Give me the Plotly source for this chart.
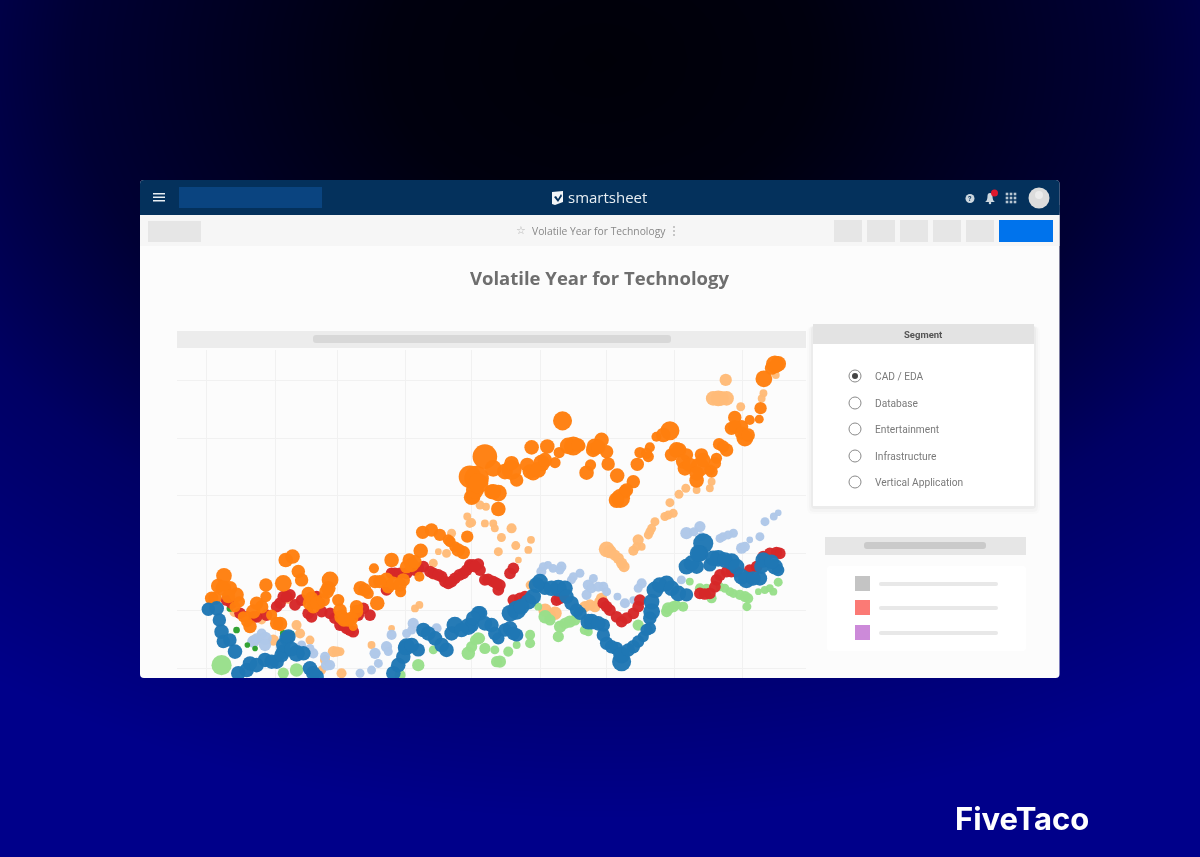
"""
Volatile Year for Technology - smartsheet dashboard screenshot
"""

import numpy as np
import pandas as pd
import plotly.graph_objects as go

# ============================================================================
# Data: day of year, change in %, market cap per point
# ============================================================================
START = pd.Timestamp('2019-01-01')

orange_day = [3.6, 5.1, 7.7, 10.4, 13.4, 14.7, 12.7, 19.5, 21, 24.8, 26.7, 26.7, 29.3, 33.1, 34.6, 35.7, 38.8, 41.4,
              42.9, 47.4, 48.2, 51.2, 55.8, 55, 59.5, 61, 64, 66.3, 67.8, 69.7, 73.1, 77.2, 75.7, 76.2, 81.4, 82.2,
              83.7, 87.8, 89, 91.7, 92.8, 96.3, 96.9, 97.8, 101.8, 105.6, 110.2, 112.4, 116.2, 118, 120, 122.2, 126,
              129.8, 120.7, 132.1, 129, 132.1, 138.1, 140.4, 145.2, 147.2, 147.9, 151.7, 154.3, 157.8, 159.7, 161.2,
              166.1, 169.1, 172.1, 173.9, 175.9, 178.9, 181.2, 181.9, 186, 187.5, 189.5, 193.3, 195.1, 196.3, 200.1,
              200.8, 203.8, 209.9, 210.6, 214.1, 217.4, 216.7, 222, 223.5, 224.2, 228, 231, 232.2, 235.6, 237.8,
              239.3, 242.4, 243.9, 246.1, 250.4, 251, 252.5, 257.5,
              2.1, 7.4, 9.7, 16.5, 22.5, 18, 31.6, 45.9, 46.7, 49.7, 52.7, 54.2, 60.3, 62.1, 65.6, 67.8, 71.6, 78.4,
              84.5, 87.5, 90.5, 94.3, 109.4, 113.9,
              121.5, 119.2, 123, 129.8, 135.1, 138.1, 146.4, 150.2, 153.2, 163.8, 168.3, 175.1, 177.4, 185.7, 190.2,
              199.3, 206.9, 212.9, 215.9, 218.9, 225, 222, 228.8, 230.3, 234, 239.3, 242.4, 245.4, 256, 259]
orange_pct = [4.4, 8.7, 12.2, 7.9, 5.6, 3.2, 1.5, -5.4, -0.2, 1.5, 5, 9, -1.4, -4.5, 9.6, 17.7, 18.9, 13.7,
              10.8, 4.4, 1.5, 2.7, 10.8, 7.9, 3.8, -2, -3.1, -5.4, -0.2, 7.9, 6.1, 2.7, 14.8, 10.2, 10.8, 8.4,
              17.7, 6.7, 10.8, 17.7, 16, 11.9, 20.9, 27.3, 28.1, 26.4, 24.1, 22.3, 20.3, 25.8, 39.5, 46.1, 53.6,
              49.5, 39.7, 40.9, 41.4, 35.4, 49, 45.5, 50.7, 56.8, 47.8, 51.3, 57.1, 51.5, 55, 66,
              57.3, 57.3, 48, 50.7, 57, 59.4, 55.3, 51, 47, 39.1, 41.4, 44.9, 50.9, 55, 53.6,
              56.8, 60.5, 62.6, 54.2, 55.9, 54.2, 49.5, 45.3, 50.1, 54.2, 49, 53, 57.9, 55.9, 63.4,
              67.2, 64, 60, 66.3, 66.6, 70.4, 80.6, 85.6,
              4.4, 7.9, 5, -2, 2.7, -3.7, -4.3, 6.1, 2.7, 2.7, 3.8, 6.7, 0.3, -3.1, -2.5, 1.5, 7.3, 10.2,
              9.6, 9, 15.4, 17.1, 24.7, 21.2,
              42, 46.6, 44.3, 41.4, 48.4, 51.3, 48.4, 49, 52.4, 57.3, 57.6, 55.9, 57, 38.5, 42,
              54.7, 61.1, 55.9, 51.9, 50.7, 52.4, 47.8, 48.4, 51.3, 57.1, 64, 61.7, 61.1, 84.3, 85.8]
orange_cap = [144, 169, 196, 169, 169, 100, 100, 144, 169, 144, 100, 144, 100, 169, 225, 169, 169, 144,
              144, 144, 144, 100, 225, 169, 121, 169, 144, 64, 144, 169, 100, 169, 81, 144, 169, 144,
              169, 100, 144, 144, 169, 81, 169, 144, 144, 121, 100, 100, 144, 121, 196, 484, 484,
              225, 169, 225, 169, 169, 324, 144, 169, 169, 169, 225, 169, 100, 100, 289,
              289, 100, 169, 100, 225, 169, 144, 144, 169, 289, 144, 144, 144, 100, 100,
              81, 81, 289, 144, 169, 144, 169, 169, 289, 144, 100, 100, 121, 144, 144,
              144, 144, 225, 81, 64, 121, 225, 256,
              144, 196, 144, 100, 144, 100, 144, 144, 169, 144, 144, 169, 144, 144, 144, 144, 144, 144,
              144, 144, 144, 144, 100, 144,
              256, 400, 324, 196, 196, 169, 169, 196, 169, 225, 144, 169, 169, 196, 144,
              100, 169, 196, 169, 169, 169, 169, 121, 121, 121, 144, 144, 144, 144, 196]

blue_day = [0.6, 4.4, 5.6, 6.6, 7.4, 10.4, 12.7, 14.2, 18, 19.5, 26.3, 31.6, 34.6, 36.1, 40.6, 46.7, 49.7, 84.5,
            89, 90.5, 95.8, 98.1, 103.4, 108.6, 112.4, 118.5, 123, 123.8, 120, 129, 132.1, 137.4, 140.4, 140.4,
            145.7, 151, 153.2, 159.3, 165.3, 169.1, 172.9, 179.7, 181.2, 185.7, 188, 193.3, 197.8, 200.8, 201.6,
            203.1, 208.4, 213.7, 217.4, 217.4, 222, 225, 223.5, 228, 231.8, 237.8, 244.6, 250.7, 252.2, 257.5, 259,
            22.5, 29.3, 33.8, 34.6, 36.9, 38.4, 43.7, 48.2, 86.7, 89.8, 92.8, 100.3, 106.4, 110.9, 115.4, 120.7,
            126, 130.5, 135.1, 138.9, 137.4, 142.6, 147.9, 149.4, 156.2, 162.3, 163, 167.6, 174.4, 177.4, 179.7,
            183.4, 188, 191, 195.5, 199.3, 200.8, 201.6, 205.3, 210.6, 219.7, 222.7, 229.5, 234.8, 240.1, 242.4,
            247.7, 251.4, 256]
blue_pct = [0.6, 0.9, -3.1, -7.2, -10.6, -10.1, -14.1, -21.6, -20.5, -18.2, -17, -17.6, -14.1, -9.5, -14.7, -19.9,
            -22.8, -21.6, -15.9, -12.4, -13.5, -6.6, -9.5, -13.5, -4.9, -5.4, -0.8, -0.8, -4.9, -4.9, -9.5, -6, -8.3,
            0.3, 3.2, 10.2, 7.9, 7.9, 2.7, -0.8, -3.7, -4.9, -11.2, -13, -17.6, -12.4, -8.9, -6, -0.2,
            7.3, 9.6, 6.1, 5.6, 15.4, 15.4, 23.5, 20, 16, 18.3, 17.1, 10.8, 11.3, 17.7, 15.4, 14.2,
            -18.8, -17.6, -15.3, -11.8, -8.9, -13.2, -14.7, -21.6, -18.8, -12.8, -11.8, -7.8, -11.8, -7.8, -6.6, -2.5,
            -4.3, -7.8, -6.6, -7.8, -0.8, 1.5, 5, 9, 7.9, 7.9, 5, 0.3, -3.7, -4.3, -8.3,
            -12.4, -15.3, -13.5, -10.6, -6.6, -2.5, 3.2, 9, 7.9, 16.6, 20, 18.3, 17.7, 15.4, 11.9,
            11.3, 15.4, 17.1]
blue_cap = [144, 169, 144, 169, 144, 144, 169, 169, 169, 169, 169, 169, 169, 169, 225, 169, 169, 169,
            169, 225, 144, 169, 169, 169, 225, 225, 169, 169, 169, 169, 121, 169, 144, 289,
            196, 196, 144, 225, 169, 144, 196, 144, 144, 144, 289, 144, 100, 121, 225,
            225, 196, 196, 144, 196, 169, 324, 225, 144, 225, 225, 225, 169, 196, 196, 121,
            169, 169, 169, 169, 169, 169, 169, 169, 169, 169, 169, 169, 169, 169, 169, 169,
            169, 144, 144, 144, 225, 196, 196, 196, 196, 196, 169, 144, 196, 169, 144,
            144, 225, 144, 121, 121, 144, 196, 196, 196, 196, 225, 196, 196, 196, 196,
            169, 169, 169]

red_day = [8.9, 15, 22.5, 27, 33.1, 34.6, 37.6, 39.9, 42.9, 47.4, 49.7, 55.8, 60.3, 63.3, 66.3, 70.9, 73.9, 81.4,
           83.7, 90.5, 94.3, 98.1, 102.6, 106.4, 109.4, 112.4, 116.2, 119.2, 123, 119.2, 123.8, 126, 129.8, 132.8,
           132.1, 137.4, 138.9, 138.9, 144.2, 158.5, 161.5, 179.7, 182.7, 188, 193.3, 196.3, 223.5, 228, 231,
           235.6, 240.1, 246.1, 252.2, 258.2, 259.7,
           101.1, 104.9, 107.9, 110.9, 114.4, 117.7, 120.7, 121.5, 127.5, 131.3, 141.9, 185.7, 190.2, 195.5, 181.2,
           230.3, 232.6, 237.8, 249.2, 255.2, 160, 225.7, 45.9, 52, 58, 61.8, 64.8, 68.6, 85.2, 87.5, 95.8, 36.1,
           31.6, 21, 18, 11.2]
red_pct = [3.8, -0.8, -2, -1.4, 2.7, 5, 5.6, 2.1, 3.8, -2, 5, -0.8, -4.9, -6, -7.2, 0.9, -1.4, 7.3,
           13.1, 13.1, 14.2, 15.4, 13.1, 11.9, 9.6, 11.3, 13.1, 15.4, 16.3, 16, 14.2, 10.8, 10.2, 9,
           7.3, 13.1, 14.8, 3.8, 5, 3.8, 5, 2.7, 0.3, -3.7, -0.8, 3.8, 6.1, 6.1, 10.8,
           13.7, 13.7, 14.2, 18.9, 20.3, 20,
           13.7, 12.5, 10.2, 10.2, 12.5, 14.2, 16, 15.4, 11, 9.6, 4.4, -2, -2.5, 1.5, 1.5,
           8.4, 12.5, 13.7, 15.4, 20, 4.4, 5.9, -0.8, -0.2, -2.5, -4.9, -6.6, -1.4, 13.1, 13.1, 14.8, 5,
           1.5, -2, -2, 2.7]

light_orange_day = [12.7, 21.8, 24.8, 30.1, 36.9, 40.6, 42.2, 46.7, 53.5, 57.3, 60.3, 52, 61, 74.6, 83.7, 94.3, 96.3,
                    102.6, 102.6, 104.9, 108.6, 110.9, 118, 119.2, 123.8, 126.5, 120, 126, 129.8, 130.5, 133.5, 138.1,
                    132.1, 140, 145.7, 146.9, 141.2, 146.5, 153.3, 157.8, 171.3, 175.9, 178.9, 181.2, 186.5, 189.1,
                    193.3, 195.5, 197.1, 200.1, 201.6, 203.1, 207.6, 211.4, 209.9, 214, 217.1, 222, 228.8, 228, 231.8,
                    235.6, 235.2, 242, 252.3, 251.5, 257.9,
                    155.5, 173.6, 178.1, 182.7, 184.9, 188, 194.8, 200.8, 209.1, 233.3, 229.5, 58.8]
light_orange_pct = [-0.2, -10.1, -3.1, -10.1, 4.4, -4.9, -7.8, -10.1, -17, -14.1, -14.1, -20.5, -21.6, -11.8, -6, 0.9, 2.1,
                    16.6, 12.5, 20.6, 20, 27, 32.8, 30.4, 36.8, 36.2, 30.7, 30.4, 30.4, 28.7, 25.5, 28.7,
                    20.6, 22.7, 21.2, 24.7, 17.7, 9, 0.3, -0.8, 1.5, 1.5, 4.4, 21.4, 18.3, 15.4,
                    20.9, 24.7, 22.3, 26.4, 28.7, 31, 32.8, 33.9, 37.6, 40.5, 42.6, 42, 44.9, 42.6, 73.8,
                    73.8, 80.2, 70.9, 75.6, 73.8, 81.9,
                    -1.4, 2.1, 3.2, 20.6, 19.4, 16.6, 22.3, 27.5, 33.3, 73.8, 73.8, -14.1]
light_orange_cap = [100, 100, 64, 100, 100, 81, 81, 64, 81, 100, 64, 64, 81, 49, 36, 49, 49,
                    64, 64, 36, 64, 64, 49, 64, 64, 49, 64, 49, 49, 49, 64, 81,
                    64, 64, 49, 49, 36, 64, 144, 144, 100, 100, 100, 196, 100, 100,
                    81, 100, 49, 64, 64, 64, 64, 64, 64, 64, 64, 49, 49, 49, 196,
                    169, 121, 64, 49, 49, 49,
                    121, 100, 100, 144, 100, 100, 64, 64, 64, 169, 169, 81]

light_blue_day = [21, 26.3, 26.3, 42.9, 48.2, 54.2, 69.4, 74.6, 76.2, 77.7, 81.4, 82.2, 83.7, 90.5, 93.5, 104.1,
                  151.6, 154.6, 156.9, 160.7, 165.2, 169.1, 172.9, 175.2, 179.7, 172.1, 186.1, 189.5, 193.3, 197.1,
                  215.1, 217.4, 223.5, 224.2, 232.6, 238.7, 242.4, 246.1, 250.7, 253, 257, 259,
                  166.1, 174.4, 177.4, 181.2, 152.5, 160, 234, 236.3, 243.9, 220.8, 195.5, 24.8, 22.5, 53.5, 55.8,
                  46.7, 92.8]
light_blue_pct = [-10.6, -9.5, -11.8, -11.8, -14.7, -18.8, -21.6, -20.5, -14.7, -18.2, -12.4, -14.1, -8.3, -7.8, -4.3, -6,
                  13.7, 16, 14.8, 15.4, 10.8, 13.1, 9, 11.3, 8.4, 5.6, 5, 2.7, 3.8, 9.6,
                  10.8, 27, 29.3, 25.8, 25.2, 27, 21.8, 24.7, 25.8, 31, 32.8, 34.1,
                  11.9, 7.9, 8.4, 6.7, 15.4, 14.2, 25.8, 26.4, 22.3, 27.5, 7.9, -7.8, -9.5, -15.9, -18.8,
                  -13, -6.6]
light_blue_cap = [121, 144, 121, 64, 81, 100, 64, 64, 100, 64, 100, 64, 81, 64, 100, 81,
                  81, 49, 64, 81, 64, 64, 100, 64, 81, 81, 49, 81, 49, 81,
                  64, 121, 100, 64, 64, 64, 100, 36, 64, 64, 49, 36,
                  64, 81, 81, 64, 64, 64, 64, 64, 81, 64, 64, 81, 81, 81, 81,
                  64, 64]

light_green_day = [6.6, 34.6, 40.6, 87.5, 95.8, 102.6, 118.5, 123, 120, 123.8, 126, 130.5, 132.8, 136.6, 140.4, 146.5,
                   146.5, 150.2, 153.3, 160.1, 159.3, 164.5, 172.9, 195.5, 209.1, 212.8, 218.9, 223.5, 228.8, 234.8,
                   238.7, 244, 244.8, 250, 256.8, 259,
                   121.5, 131.3, 155.5, 162.3, 166.8, 171.3, 211.4, 208.4, 215.9, 226.5, 232.6, 237.1, 241.6, 245.4,
                   252.9, 255.2]
light_green_pct = [-18.8, -21.6, -20.5, -22.2, -18.8, -13.5, -14.7, -9.5, -12.4, -9.5, -13, -13.5, -17.6, -14.1, -11.8, -8.3,
                   -11.2, 1.5, -2, -5.4, -8.9, -3.7, -7.2, -4.9, 0.9, 2.1, 10.2, 7.9, 4.4, 7.9,
                   6.1, 5, 1.5, 6.7, 6.7, 10,
                   -10.1, -17.6, -3.1, -4.3, -3.1, -6.6, 1.5, -0.2, 1.5, 7.9, 8.4, 6.7, 5.6, 4.4,
                   7.3, 7.9]
light_green_cap = [324, 100, 144, 100, 121, 64, 144, 121, 100, 81, 100, 64, 121, 81, 49, 81,
                   81, 49, 144, 121, 100, 121, 64, 100, 121, 81, 49, 81, 81, 64,
                   64, 100, 64, 36, 49, 64,
                   81, 100, 100, 100, 100, 81, 100, 100, 81, 64, 64, 64, 81, 81,
                   49, 49]

green_day = [10.4, 13.4, 18.3, 21.8, 34.6, 38.4]
green_pct = [0.9, -6.6, -11.8, -13, -7.8, -7.8]
green_cap = [36, 36, 25, 25, 36, 25]

segments = ['CAD / EDA', 'Database', 'Entertainment', 'Infrastructure', 'Vertical Application']

W, H = 1200, 857

# ============================================================================
# Background gradient (pixel grid of the page)
# ============================================================================
bg_x = np.linspace(0, W, 61)
bg_y = np.linspace(0, H, 44)
xx, yy = np.meshgrid(bg_x, bg_y)
bg_z = np.hypot((xx - 600) / 1050, (yy - 60) / 760)

fig = go.Figure()
fig.add_trace(go.Heatmap(
    x=bg_x, y=bg_y, z=bg_z, zmin=0, zmax=1, zsmooth='best', showscale=False, hoverinfo='skip',
    colorscale=[[0, '#000008'], [0.2, '#00000e'], [0.5, '#000034'], [0.7, '#000064'], [1, '#00008a']],
    xaxis='x', yaxis='y'))


# window chrome goes on a second full-page subplot, above the gradient
def box(x0, y0, x1, y1, color, radius=0):
    if radius:
        path = (f'M{x0 + radius},{y0} L{x1 - radius},{y0} Q{x1},{y0} {x1},{y0 + radius} '
                f'L{x1},{y1 - radius} Q{x1},{y1} {x1 - radius},{y1} L{x0 + radius},{y1} '
                f'Q{x0},{y1} {x0},{y1 - radius} L{x0},{y0 + radius} Q{x0},{y0} {x0 + radius},{y0} Z')
        return dict(type='path', path=path, xref='x2', yref='y2', fillcolor=color, line_width=0, layer='below')
    return dict(type='rect', x0=x0, y0=y0, x1=x1, y1=y1, xref='x2', yref='y2', fillcolor=color, line_width=0,
                layer='below')


def dot(cx, cy, r, color, line=None):
    return dict(type='circle', x0=cx - r, y0=cy - r, x1=cx + r, y1=cy + r, xref='x2', yref='y2', fillcolor=color,
                line=dict(color=line or color, width=1 if line else 0), layer='below')


def outline(path, color):
    return dict(type='path', path=path, xref='x2', yref='y2', fillcolor=color, line_width=0, layer='below')


shapes = [
    box(140, 180, 1059.5, 678, '#fcfcfc', 4),
    box(140, 180, 1059.5, 215, '#04315c', 4),
    box(140, 205, 1059.5, 215, '#04315c'),
    box(179, 187, 322, 208, '#0a4480'),
    box(153, 193, 165, 194.5, '#e8eef3'),
    box(153, 196.5, 165, 198, '#e8eef3'),
    box(153, 200, 165, 201.5, '#e8eef3'),
    box(140, 215, 1059.5, 246, '#f6f6f6'),
    box(148, 221, 201, 242, '#e6e6e6'),
    box(834, 220, 862, 242, '#e6e6e6'),
    box(867, 220, 895, 242, '#e6e6e6'),
    box(900, 220, 928, 242, '#e6e6e6'),
    box(933, 220, 961, 242, '#e6e6e6'),
    box(966, 220, 994, 242, '#e6e6e6'),
    box(999, 220, 1053, 242, '#0073ec'),
    # logo with its check mark
    outline('M552,192 L563,191 L563,202 L555,205 L552,204 Z', '#f2f5f8'),
    outline('M554,197 L556,196 L558,199 L561,194 L562,196 L558,202 Z', '#04315c'),
    # right hand icons
    dot(970, 198.5, 4.5, '#cdd7df'),
    outline('M985,202 Q987.5,201 987.5,196 Q987.5,193 990,193 Q992.5,193 992.5,196 Q992.5,201 995,202 Z', '#cdd7df'),
    dot(990, 203, 1.3, '#cdd7df'),
    dot(994.5, 193, 3.5, '#e0182d'),
    dot(1039, 198, 10.5, '#dcdcdc'),
    dot(1039, 195, 4, '#ececec'),
    # chart heading strip
    box(177, 331, 806, 348, '#ececec'),
    box(313, 335, 671, 343, '#d8d8d8', 3),
    # segment panel with soft shadow
    box(807, 326, 1040, 514, 'rgba(0,0,0,0.012)', 6),
    box(809, 326, 1038, 512, 'rgba(0,0,0,0.018)', 5),
    box(811, 326, 1036, 509, 'rgba(0,0,0,0.03)', 4),
    box(813, 324, 1034, 506, '#ffffff'),
    box(813, 324, 1034, 344, '#e3e3e3'),
    # lower legend panel
    box(825, 537, 1026, 555, '#e6e6e6'),
    box(864, 542, 986, 549, '#cacaca', 3),
    box(827, 566, 1026, 651, '#ffffff', 4),
    box(855, 576, 870, 591, '#c4c4c4'),
    box(855, 600, 870, 615, '#fb7a75'),
    box(855, 625, 870, 640, '#cc8ad9'),
    box(879, 582, 998, 586, '#e8e8e8', 2),
    box(879, 606, 998, 610, '#e8e8e8', 2),
    box(879, 631, 998, 635, '#e8e8e8', 2),
    # kebab dots in the toolbar
    dot(674, 227, 0.8, '#888888'),
    dot(674, 231, 0.8, '#888888'),
    dot(674, 235, 0.8, '#888888'),
]
# app launcher grid
for gx in (1007, 1011, 1015):
    for gy in (194, 198, 202):
        shapes.append(box(gx - 1.3, gy - 1.3, gx + 1.3, gy + 1.3, '#b9c6d2'))

# radio buttons
radio_y = [376, 403, 429, 456, 482]
for ry in radio_y:
    shapes.append(dot(855, ry, 6, '#ffffff', '#8a8a8a'))
shapes.append(dot(855, radio_y[0], 3, '#444444'))

# gray band and baseline on the chart axes
shapes.append(dict(type='rect', x0=0, x1=1, xref='x3 domain', y0=-10, y1=10, yref='y3', fillcolor='#eeeeee',
                   line_width=0, layer='below'))
shapes.append(dict(type='line', x0=0, x1=1, xref='x3 domain', y0=0, y1=0, yref='y3',
                   line=dict(color='#555555', width=1, dash='dot'), layer='below'))

fig.add_trace(go.Scatter(x=[], y=[], xaxis='x2', yaxis='y2', hoverinfo='skip', showlegend=False))


# ============================================================================
# Bubbles, light series first
# ============================================================================
def add_bubbles(day, pct, cap, color):
    fig.add_trace(go.Scatter(
        x=START + pd.to_timedelta(day, unit='D'), y=pct, mode='markers', xaxis='x3', yaxis='y3', showlegend=False,
        marker=dict(size=np.sqrt(cap) * 1.12, color=color, opacity=0.97, line_width=0)))


add_bubbles(light_orange_day, light_orange_pct, light_orange_cap, '#ffbb78')
add_bubbles(light_blue_day, light_blue_pct, light_blue_cap, '#aec7e8')
add_bubbles(green_day, green_pct, green_cap, '#2ca02c')
add_bubbles(light_green_day, light_green_pct, light_green_cap, '#98df8a')
add_bubbles(red_day, red_pct, [110] * len(red_day), '#d62728')
add_bubbles(orange_day, orange_pct, orange_cap, '#ff7f0e')
add_bubbles(blue_day, blue_pct, blue_cap, '#1f77b4')


def label(x, y, text, size, color, family='Roboto', anchor='center', weight=None):
    return dict(x=x, y=y, xref='x2', yref='y2', text=text, showarrow=False, xanchor=anchor, yanchor='middle',
                font=dict(family=family, size=size, color=color, weight=weight))


annotations = [
    label(607, 197, 'smartsheet', 15, '#e8eef3', 'Open Sans'),
    label(521, 230.5, '☆', 11, '#b5b5b5', 'DejaVu Sans'),
    label(599, 231, 'Volatile Year for Technology', 10.3, '#888888', 'Open Sans'),
    label(600, 277, 'Volatile Year for Technology', 18.5, '#6e6e6e', 'Open Sans', weight=700),
    label(923, 334, 'Segment', 9.5, '#555555', 'Roboto', weight=700),
    label(970, 198.5, '?', 7, '#04315c', 'Roboto', weight=700),
    label(1022, 818, 'FiveTaco', 31, '#ffffff', 'Inter', weight=700),
]
for name, ry in zip(segments, radio_y):
    annotations.append(label(873, ry, name, 10.2, '#7a7a7a', anchor='left'))

hidden = dict(visible=False, fixedrange=True)
fig.update_layout(
    width=W, height=H, margin=dict(l=0, r=0, t=0, b=0, pad=0), paper_bgcolor='#000030', plot_bgcolor='rgba(0,0,0,0)',
    showlegend=False, shapes=shapes, annotations=annotations,
    xaxis=dict(hidden, domain=[0, 1], range=[0, W]),
    yaxis=dict(hidden, domain=[0, 1], range=[H, 0]),
    xaxis2=dict(hidden, domain=[0, 1], range=[0, W]),
    yaxis2=dict(hidden, domain=[0, 1], range=[H, 0]),
    xaxis3=dict(
        domain=[177 / W, 806 / W], range=[START - pd.Timedelta(days=13.6), START + pd.Timedelta(days=271.6)],
        type='date', dtick='M1', tick0='2019-01-01', showticklabels=False, ticks='', showgrid=True,
        gridcolor='#f1f1f1', gridwidth=1, zeroline=False, showline=False, anchor='y3'),
    yaxis3=dict(
        domain=[1 - 678 / H, 1 - 350 / H], range=[-23.26, 90.6], dtick=20, tick0=0, showticklabels=False, ticks='',
        showgrid=True, gridcolor='#f1f1f1', gridwidth=1, zeroline=False, showline=False, anchor='x3'),
)

# the reference is a soft video frame, so the whole page gets a slight blur
fig.write_html('out.html', config=dict(displayModeBar=False),
               post_script="document.body.style.margin='0';document.body.style.overflow='hidden';"
                           "document.querySelector('.plot-container').style.filter='blur(0.6px)';")
